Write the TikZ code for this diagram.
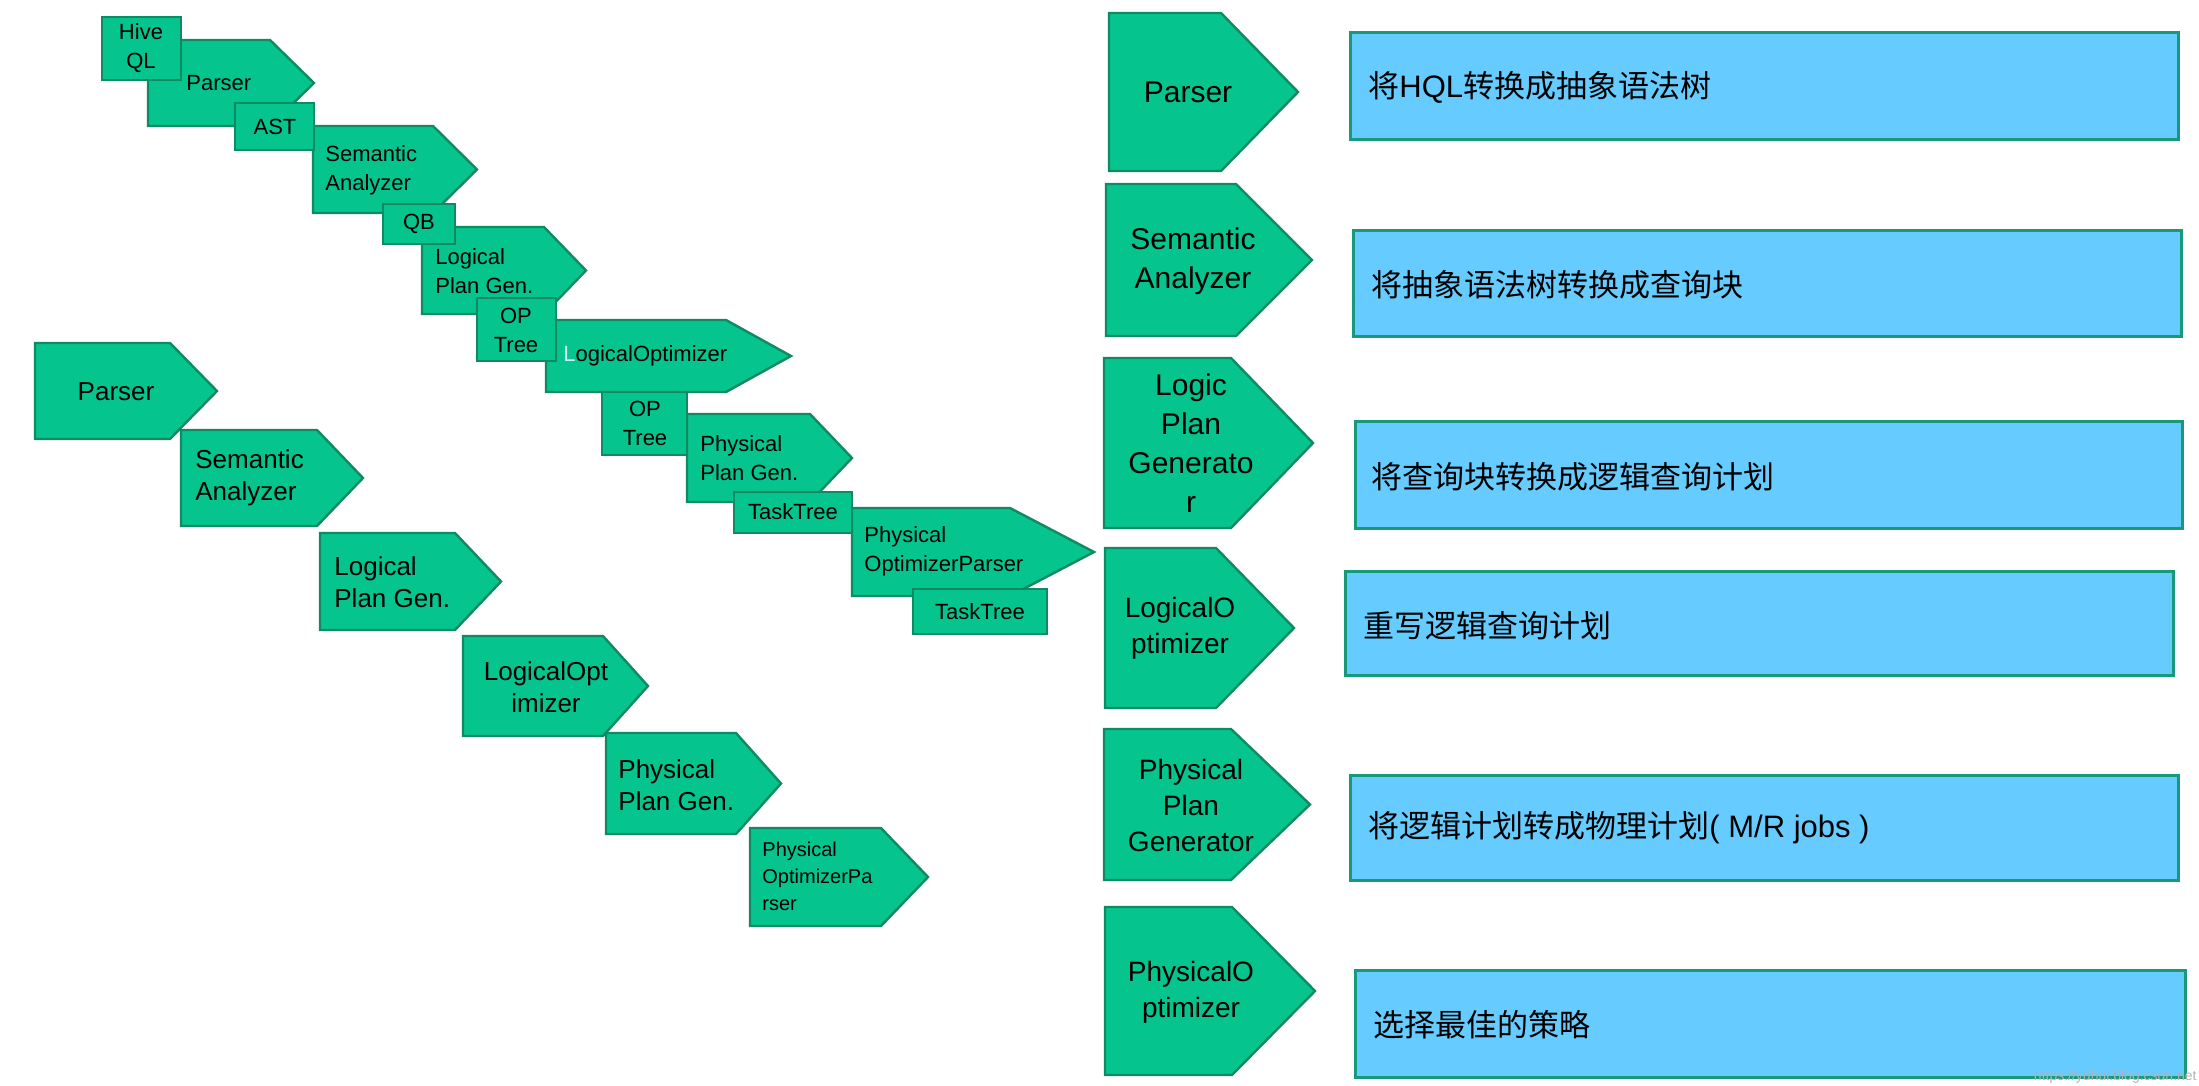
\documentclass[tikz,border=0pt]{standalone}
\usepackage{fontspec}
\setmainfont{Liberation Sans}
\newfontfamily\cjk{Noto Sans CJK SC}
\definecolor{gfill}{HTML}{05C48D}
\definecolor{gline}{HTML}{108A62}
\definecolor{bfill}{HTML}{66CCFF}
\definecolor{bline}{HTML}{17997A}
\tikzset{
 gp/.style={draw=gline,fill=gfill,line width=1.2pt},
 bp/.style={draw=bline,fill=bfill,line width=1.5pt},
 ct/.style={font=\fontsize{11}{14.5}\selectfont,align=left,inner sep=0pt},
 lt/.style={font=\fontsize{13}{16}\selectfont,align=left,inner sep=0pt},
 rt/.style={font=\fontsize{15}{19.5}\selectfont,align=center,inner sep=0pt},
 zt/.style={font=\cjk\fontsize{15.5}{18}\selectfont,anchor=west,inner sep=0pt},
}
\newcommand\pg[6][gp]{\draw[#1] (#2,#3) -- (#4,#3) -- (#5,{(#3+#6)/2}) -- (#4,#6) -- (#2,#6) -- cycle;}
\begin{document}
\begin{tikzpicture}[x=0.5pt,y=-0.5pt]
\useasboundingbox[fill=white] (0,0) rectangle (2199,1086);
% cascade
\pg{148}{40}{270}{314}{126}
\pg{313}{126}{433}{477}{213}
\pg{422}{227}{544}{586}{314}
\pg{546}{320}{726}{791}{392}
\pg{687}{414}{810}{852}{502}
\pg{852}{508}{1010}{1094}{596}
\node[ct,anchor=west] (cp) at (186,83) {Parser};
\node[ct,anchor=west] (csa) at (325,170) {Semantic\\Analyzer};
\node[ct,anchor=west] (clp) at (435,271) {Logical\\Plan Gen.};
\node[ct,anchor=west] (clo) at (563,356) {{\color{white!80!cyan}L}ogicalOptimizer};
\node[ct,anchor=west] (cpp) at (700,458) {Physical\\Plan Gen.};
\node[ct,anchor=west] (cpo) at (864,551) {Physical\\OptimizerParser};
\draw[gp] (102,17) rectangle (181,80);
\draw[gp] (235,103) rectangle (314,150);
\draw[gp] (383,204) rectangle (455,244);
\draw[gp] (477,298) rectangle (556,361);
\draw[gp] (602,392) rectangle (687,455);
\draw[gp] (734,492) rectangle (852,533);
\draw[gp] (913,589) rectangle (1047,634);
\node[ct,align=center] (hql) at (141,48) {Hive\\QL};
\node[ct] (ast) at (275,127) {AST};
\node[ct] (qb) at (419,224) {QB};
\node[ct,align=center] (op1) at (516,330) {OP\\Tree};
\node[ct,align=center] (op2) at (645,423) {OP\\Tree};
\node[ct] (tt1) at (793,512) {TaskTree};
\node[ct] (tt2) at (980,612) {TaskTree};
% left column
\pg{35}{343}{170}{217}{439}
\pg{181}{430}{317}{363}{526}
\pg{320}{533}{455}{501}{630}
\pg{463}{636}{603}{648}{736}
\pg{606}{733}{736}{781}{834}
\pg{750}{828}{881}{928}{926}
\node[lt] (lp) at (116,392) {Parser};
\node[lt,anchor=west] (lsa) at (195,478) {Semantic\\Analyzer};
\node[lt,anchor=west] (llp) at (334,582) {Logical\\Plan Gen.};
\node[lt,align=center] (llo) at (546,687) {LogicalOpt\\imizer};
\node[lt,anchor=west] (lpp) at (618,785) {Physical\\Plan Gen.};
\node[ct,anchor=west,font=\fontsize{10}{13.5}\selectfont] (lpo) at (762,876) {Physical\\OptimizerPa\\rser};
% right column
\pg{1109}{13}{1221}{1298}{171}
\pg{1106}{184}{1236}{1312}{336}
\pg{1104}{358}{1231}{1313}{528}
\pg{1105}{548}{1216}{1294}{708}
\pg{1104}{729}{1231}{1310}{880}
\pg{1105}{907}{1232}{1315}{1075}
\node[rt] (rp) at (1188,92) {Parser};
\node[rt] (rsa) at (1193,261) {Semantic\\Analyzer};
\node[rt] (rlp) at (1191,443) {Logic\\Plan\\Generato\\r};
\node[rt,font=\fontsize{14}{18}\selectfont] (rlo) at (1180,628) {LogicalO\\ptimizer};
\node[rt,font=\fontsize{14}{18}\selectfont] (rpp) at (1191,805) {Physical\\Plan\\Generator};
\node[rt,font=\fontsize{14}{18}\selectfont] (rpo) at (1191,992) {PhysicalO\\ptimizer};
\draw[bp] (1350,33) rectangle (2178,139);
\draw[bp] (1353,230) rectangle (2181,336);
\draw[bp] (1355,421) rectangle (2182,528);
\draw[bp] (1345,571) rectangle (2173,675);
\draw[bp] (1350,775) rectangle (2178,880);
\draw[bp] (1355,970) rectangle (2185,1077);
\node[zt] (d1) at (1368,87) {将{\rmfamily HQL}转换成抽象语法树};
\node[zt] (d2) at (1371,285) {将抽象语法树转换成查询块};
\node[zt] (d3) at (1371,477) {将查询块转换成逻辑查询计划};
\node[zt] (d4) at (1363,626) {重写逻辑查询计划};
\node[zt] (d5) at (1368,828) {将逻辑计划转成物理计划{\rmfamily ( M/R jobs )}};
\node[zt] (d6) at (1373,1025) {选择最佳的策略};
\node[anchor=south east,inner sep=1pt,text=gray!60,font=\fontsize{7}{8}\selectfont] (url) at (2199,1086) {https://yuhui.blog.csdn.net};
\end{tikzpicture}
\end{document}
